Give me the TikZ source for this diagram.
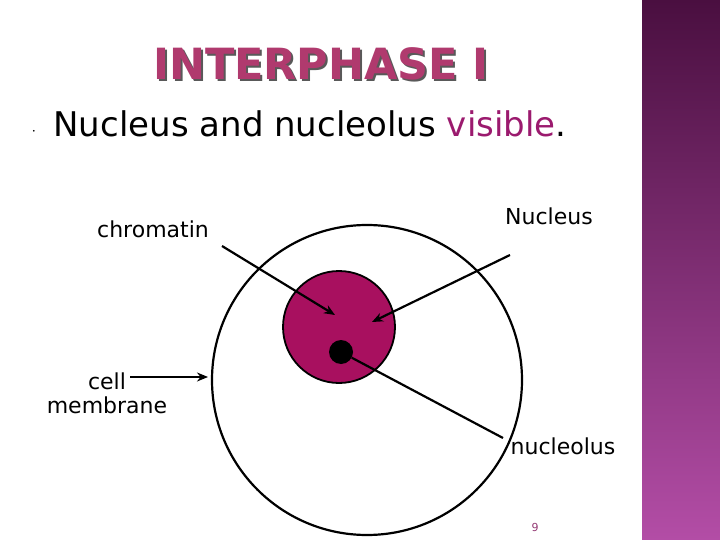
\documentclass[tikz,border=0pt]{standalone}
\usepackage{fontspec}
\setmainfont{DejaVu Sans}
\usetikzlibrary{arrows.meta}
\definecolor{stripT}{HTML}{4A0F40}
\definecolor{stripB}{HTML}{B34DA6}
\definecolor{nuc}{HTML}{A8105F}
\definecolor{ttl}{HTML}{B03A6E}
\definecolor{vis}{HTML}{9B1A6E}
\tikzset{lbl/.style={font=\fontsize{22}{24}\selectfont, align=center},
arr/.style={-{Stealth[length=11pt,width=9pt]}, line width=2.2pt}}
\begin{document}
\begin{tikzpicture}[x=1pt,y=-1pt]
\useasboundingbox (0,0) rectangle (720,540);
\fill[white] (0,0) rectangle (720,540);
\shade[top color=stripT, bottom color=stripB] (642,0) rectangle (720,540);
\node[font=\bfseries\fontsize{43}{45}\selectfont, text=gray!70!black] (tshadow) at (323,66) {INTERPHASE I};
\node[font=\bfseries\fontsize{43}{45}\selectfont, text=ttl] (title) at (321,64) {INTERPHASE I};
\node[font=\fontsize{6}{7}\selectfont] (bul) at (34,132) {•};
\node[font=\fontsize{34}{38}\selectfont, anchor=west] (sub) at (50,124) {Nucleus and nucleolus \textcolor{vis}{visible}.};
\node[circle, draw, line width=2.2pt, minimum size=310pt, inner sep=0] (cell) at (367,380) {};
\node[circle, draw, fill=nuc, line width=1.8pt, minimum size=112pt, inner sep=0] (nucleus) at (339,327) {};
\node[circle, fill=black, minimum size=24pt, inner sep=0] (nucleolus) at (341,352) {};
\node[lbl] (chrom) at (153,229) {chromatin};
\node[lbl] (nlab) at (549,216) {Nucleus};
\node[lbl] (mem) at (107,393) {cell\\membrane};
\node[lbl] (nolab) at (563,446) {nucleolus};
\node[font=\fontsize{11}{12}\selectfont, text=vis!70!gray] (pg) at (535,527) {9};
\coordinate (c1) at (222,246); \coordinate (c2) at (335,315);
\coordinate (n1) at (510,255); \coordinate (n2) at (372,322);
\coordinate (m1) at (130,377); \coordinate (m2) at (208,377);
\coordinate (o2) at (503,438);
\draw[arr] (c1) -- (c2);
\draw[arr] (n1) -- (n2);
\draw[arr] (m1) -- (m2);
\draw[line width=2.2pt] (nucleolus) -- (o2);
\end{tikzpicture}
\end{document}
